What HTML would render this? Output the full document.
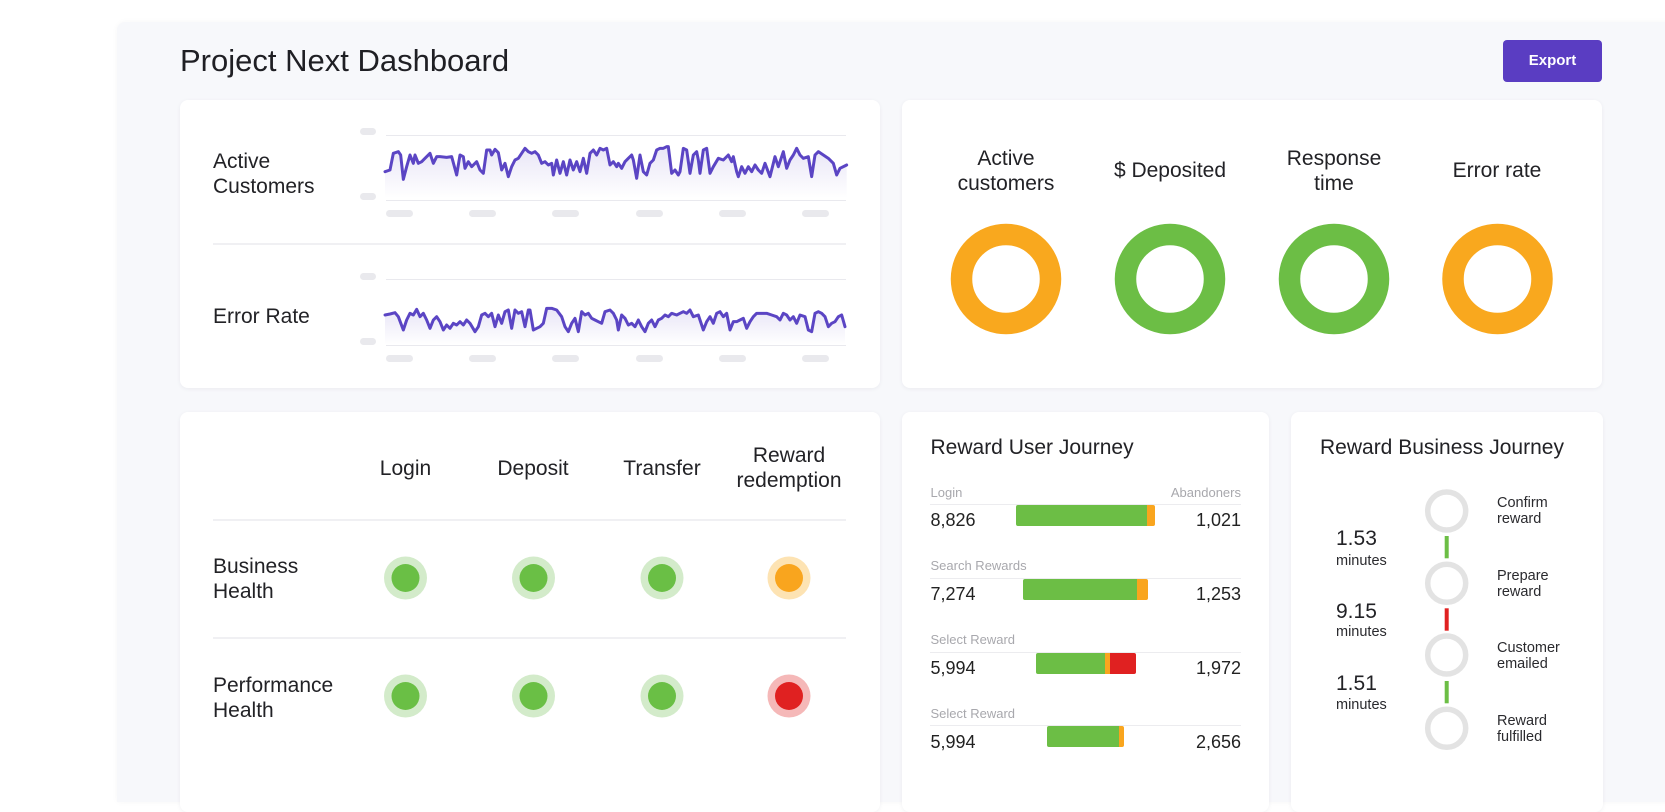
<!DOCTYPE html>
<html><head><meta charset="utf-8">
<style>
*{margin:0;padding:0;box-sizing:border-box}
html,body{width:1665px;height:780px;overflow:hidden;background:#fff;font-family:"Liberation Sans",Arial,sans-serif;color:#222226}
.abs{position:absolute}
#panel{position:absolute;left:117px;top:22px;width:1560px;height:780px;background:#f7f8fb;border-radius:8px 0 0 0;box-shadow:0 0 6px rgba(0,0,0,0.04)}
.card{position:absolute;background:#fff;border-radius:8px;box-shadow:0 1px 4px rgba(30,30,60,0.06)}
.t21{font-size:21px;line-height:25px;white-space:nowrap}
.ctr{text-align:center}
.pill{position:absolute;background:#e9e9ed;border-radius:4px}
.grid{position:absolute;height:1px;background:#e9e9ee}
.div{position:absolute;height:2px;background:#f0f0f3}
.lbl{position:absolute;font-size:13px;line-height:16px;color:#a8a8ad;white-space:nowrap}
.num{position:absolute;font-size:18px;line-height:22px;color:#222;white-space:nowrap}
.bar{position:absolute;height:21px;border-radius:2px;overflow:hidden;display:flex}
.g{background:#6cbe45}.o{background:#f9a51e}.r{background:#e02121}
.sm{position:absolute;font-size:14.5px;line-height:16px;color:#2a2a2e;white-space:nowrap}
</style></head><body>
<div id="panel"></div>

<div class="abs" style="left:180px;top:41px;font-size:31px;line-height:40px;white-space:nowrap;color:#1f1f24">Project Next Dashboard</div>
<div class="abs" style="left:1503px;top:40px;width:99px;height:42px;background:#5a3dc2;border-radius:4px;color:#fff;font-size:15px;font-weight:bold;line-height:42px;text-align:center">Export</div>

<!-- Card 1 -->
<div class="card" style="left:180px;top:100px;width:700px;height:288px"></div>
<div class="abs t21" style="left:213px;top:149px">Active<br>Customers</div>
<div class="abs t21" style="left:213px;top:304px">Error Rate</div>
<div class="div" style="left:213px;top:243px;width:633px"></div>

<div class="pill" style="left:360px;top:128px;width:16px;height:7px"></div>
<div class="pill" style="left:360px;top:193px;width:16px;height:7px"></div>
<div class="grid" style="left:386px;top:135px;width:460px"></div>
<div class="grid" style="left:386px;top:200px;width:460px"></div>
<div class="pill" style="left:386px;top:210px;width:27px;height:7px"></div>
<div class="pill" style="left:469px;top:210px;width:27px;height:7px"></div>
<div class="pill" style="left:552px;top:210px;width:27px;height:7px"></div>
<div class="pill" style="left:636px;top:210px;width:27px;height:7px"></div>
<div class="pill" style="left:719px;top:210px;width:27px;height:7px"></div>
<div class="pill" style="left:802px;top:210px;width:27px;height:7px"></div>

<div class="pill" style="left:360px;top:273px;width:16px;height:7px"></div>
<div class="pill" style="left:360px;top:338px;width:16px;height:7px"></div>
<div class="grid" style="left:386px;top:279px;width:460px"></div>
<div class="grid" style="left:386px;top:345px;width:460px"></div>
<div class="pill" style="left:386px;top:355px;width:27px;height:7px"></div>
<div class="pill" style="left:469px;top:355px;width:27px;height:7px"></div>
<div class="pill" style="left:552px;top:355px;width:27px;height:7px"></div>
<div class="pill" style="left:636px;top:355px;width:27px;height:7px"></div>
<div class="pill" style="left:719px;top:355px;width:27px;height:7px"></div>
<div class="pill" style="left:802px;top:355px;width:27px;height:7px"></div>

<svg class="abs" style="left:380px;top:130px" width="470" height="70" viewBox="0 0 1410 210">
<defs><linearGradient id="gf" x1="0" y1="0" x2="0" y2="1"><stop offset="0" stop-color="#5b45c4" stop-opacity="0.14"/><stop offset="1" stop-color="#5b45c4" stop-opacity="0"/></linearGradient></defs>
<polygon fill="url(#gf)" points="15,125 30,120 40,70 55,65 62,75 70,148 80,110 90,75 100,100 105,75 115,100 125,95 135,85 150,70 160,100 170,80 180,80 200,82 215,80 230,135 240,75 250,80 255,115 265,95 275,110 290,95 300,120 310,130 320,60 330,60 335,75 345,58 355,68 365,120 375,100 385,140 395,110 405,90 415,85 425,70 435,55 445,65 455,70 465,65 475,75 485,100 495,95 505,105 515,100 520,135 530,90 540,130 550,95 560,135 570,90 580,120 590,95 600,125 610,85 620,130 630,70 640,60 650,75 660,55 670,60 680,55 690,105 700,95 710,110 715,100 725,115 735,95 745,85 755,75 760,90 770,145 780,75 790,125 800,135 810,100 820,90 830,60 840,55 850,55 860,50 865,50 875,130 885,120 895,135 900,125 910,55 920,60 930,130 940,75 950,65 955,90 960,130 970,60 980,55 990,130 1000,110 1015,85 1030,90 1045,75 1055,95 1060,80 1070,125 1075,140 1085,110 1095,130 1105,110 1115,125 1125,105 1135,120 1145,130 1155,100 1170,140 1185,80 1195,110 1210,65 1220,115 1230,90 1240,75 1250,55 1260,75 1270,85 1285,80 1295,140 1305,75 1315,65 1330,75 1345,85 1360,100 1370,135 1380,115 1400,105 1400,205 15,205"/>
<polyline fill="none" stroke="#5b45c4" stroke-width="9" stroke-linejoin="round" stroke-linecap="round" points="15,125 30,120 40,70 55,65 62,75 70,148 80,110 90,75 100,100 105,75 115,100 125,95 135,85 150,70 160,100 170,80 180,80 200,82 215,80 230,135 240,75 250,80 255,115 265,95 275,110 290,95 300,120 310,130 320,60 330,60 335,75 345,58 355,68 365,120 375,100 385,140 395,110 405,90 415,85 425,70 435,55 445,65 455,70 465,65 475,75 485,100 495,95 505,105 515,100 520,135 530,90 540,130 550,95 560,135 570,90 580,120 590,95 600,125 610,85 620,130 630,70 640,60 650,75 660,55 670,60 680,55 690,105 700,95 710,110 715,100 725,115 735,95 745,85 755,75 760,90 770,145 780,75 790,125 800,135 810,100 820,90 830,60 840,55 850,55 860,50 865,50 875,130 885,120 895,135 900,125 910,55 920,60 930,130 940,75 950,65 955,90 960,130 970,60 980,55 990,130 1000,110 1015,85 1030,90 1045,75 1055,95 1060,80 1070,125 1075,140 1085,110 1095,130 1105,110 1115,125 1125,105 1135,120 1145,130 1155,100 1170,140 1185,80 1195,110 1210,65 1220,115 1230,90 1240,75 1250,55 1260,75 1270,85 1285,80 1295,140 1305,75 1315,65 1330,75 1345,85 1360,100 1370,135 1380,115 1400,105"/>
</svg>

<svg class="abs" style="left:380px;top:290px" width="470" height="70" viewBox="0 0 1410 210">
<defs><linearGradient id="gf2" x1="0" y1="0" x2="0" y2="1"><stop offset="0" stop-color="#5b45c4" stop-opacity="0.14"/><stop offset="1" stop-color="#5b45c4" stop-opacity="0"/></linearGradient></defs>
<polygon fill="url(#gf2)" points="15,75 30,72 45,68 55,80 70,120 80,90 90,70 100,75 110,58 120,80 130,70 140,90 150,115 160,90 170,80 180,95 190,120 200,105 210,115 220,100 230,105 240,95 250,105 260,90 270,100 285,125 295,110 305,75 315,70 325,80 335,70 345,110 355,75 365,100 375,65 385,60 395,115 405,60 415,70 425,65 435,110 445,60 450,60 460,120 470,115 480,110 490,100 500,55 515,55 530,60 545,80 555,110 565,125 575,100 585,85 595,125 605,65 615,75 625,70 635,85 645,90 655,95 665,100 675,65 690,60 700,70 710,90 715,120 725,75 735,85 745,105 755,100 765,110 775,90 785,110 795,125 805,100 815,90 825,110 835,90 845,85 855,75 865,80 875,70 890,75 900,70 910,65 920,70 930,60 940,80 955,75 970,120 980,95 990,80 1000,100 1010,70 1020,65 1030,80 1040,70 1050,120 1060,95 1070,95 1080,90 1090,85 1100,115 1110,95 1120,80 1130,70 1145,70 1160,70 1175,75 1190,80 1200,90 1210,70 1220,75 1230,90 1240,80 1250,100 1260,75 1275,80 1285,120 1295,125 1305,70 1315,65 1325,70 1335,80 1345,110 1355,100 1365,95 1375,80 1385,75 1395,110 1395,165 15,165"/>
<polyline fill="none" stroke="#5b45c4" stroke-width="9" stroke-linejoin="round" stroke-linecap="round" points="15,75 30,72 45,68 55,80 70,120 80,90 90,70 100,75 110,58 120,80 130,70 140,90 150,115 160,90 170,80 180,95 190,120 200,105 210,115 220,100 230,105 240,95 250,105 260,90 270,100 285,125 295,110 305,75 315,70 325,80 335,70 345,110 355,75 365,100 375,65 385,60 395,115 405,60 415,70 425,65 435,110 445,60 450,60 460,120 470,115 480,110 490,100 500,55 515,55 530,60 545,80 555,110 565,125 575,100 585,85 595,125 605,65 615,75 625,70 635,85 645,90 655,95 665,100 675,65 690,60 700,70 710,90 715,120 725,75 735,85 745,105 755,100 765,110 775,90 785,110 795,125 805,100 815,90 825,110 835,90 845,85 855,75 865,80 875,70 890,75 900,70 910,65 920,70 930,60 940,80 955,75 970,120 980,95 990,80 1000,100 1010,70 1020,65 1030,80 1040,70 1050,120 1060,95 1070,95 1080,90 1090,85 1100,115 1110,95 1120,80 1130,70 1145,70 1160,70 1175,75 1190,80 1200,90 1210,70 1220,75 1230,90 1240,80 1250,100 1260,75 1275,80 1285,120 1295,125 1305,70 1315,65 1325,70 1335,80 1345,110 1355,100 1365,95 1375,80 1385,75 1395,110"/>
</svg>

<!-- Card 2 -->
<div class="card" style="left:902px;top:100px;width:700px;height:288px"></div>
<div class="abs t21 ctr" style="left:926px;top:145.5px;width:160px">Active<br>customers</div>
<div class="abs t21 ctr" style="left:1090px;top:158px;width:160px">$ Deposited</div>
<div class="abs t21 ctr" style="left:1254px;top:145.5px;width:160px">Response<br>time</div>
<div class="abs t21 ctr" style="left:1417px;top:158px;width:160px">Error rate</div>
<svg class="abs" style="left:902px;top:100px" width="700" height="288">
<circle cx="104" cy="179" r="44.5" fill="none" stroke="#f9a81e" stroke-width="21.5"/>
<circle cx="268" cy="179" r="44.5" fill="none" stroke="#6cbe45" stroke-width="21.5"/>
<circle cx="432" cy="179" r="44.5" fill="none" stroke="#6cbe45" stroke-width="21.5"/>
<circle cx="595.5" cy="179" r="44.5" fill="none" stroke="#f9a81e" stroke-width="21.5"/>
</svg>

<!-- Card 3 -->
<div class="card" style="left:180px;top:412px;width:700px;height:400px"></div>
<div class="abs t21 ctr" style="left:345.5px;top:456px;width:120px">Login</div>
<div class="abs t21 ctr" style="left:473px;top:456px;width:120px">Deposit</div>
<div class="abs t21 ctr" style="left:602px;top:456px;width:120px">Transfer</div>
<div class="abs t21 ctr" style="left:719px;top:442.5px;width:140px">Reward<br>redemption</div>
<div class="div" style="left:213px;top:518.5px;width:633px"></div>
<div class="div" style="left:213px;top:637px;width:633px"></div>
<div class="abs t21" style="left:213px;top:554px">Business<br>Health</div>
<div class="abs t21" style="left:213px;top:672.5px">Performance<br>Health</div>
<svg class="abs" style="left:180px;top:412px" width="700" height="368">
<g transform="translate(0,166)">
<circle cx="225.5" cy="0" r="21.5" fill="#d3ebca"/><circle cx="225.5" cy="0" r="14" fill="#6abf45"/>
<circle cx="353.5" cy="0" r="21.5" fill="#d3ebca"/><circle cx="353.5" cy="0" r="14" fill="#6abf45"/>
<circle cx="482" cy="0" r="21.5" fill="#d3ebca"/><circle cx="482" cy="0" r="14" fill="#6abf45"/>
<circle cx="609" cy="0" r="21.5" fill="#fde3b3"/><circle cx="609" cy="0" r="14" fill="#f9a51e"/>
</g>
<g transform="translate(0,284)">
<circle cx="225.5" cy="0" r="21.5" fill="#d3ebca"/><circle cx="225.5" cy="0" r="14" fill="#6abf45"/>
<circle cx="353.5" cy="0" r="21.5" fill="#d3ebca"/><circle cx="353.5" cy="0" r="14" fill="#6abf45"/>
<circle cx="482" cy="0" r="21.5" fill="#d3ebca"/><circle cx="482" cy="0" r="14" fill="#6abf45"/>
<circle cx="609" cy="0" r="21.5" fill="#f5b8b8"/><circle cx="609" cy="0" r="14" fill="#e02121"/>
</g>
</svg>

<!-- Card 4 -->
<div class="card" style="left:902px;top:412px;width:367px;height:400px"></div>
<div class="abs" style="left:930.5px;top:435px;font-size:21px;line-height:26px;white-space:nowrap">Reward User Journey</div>

<div class="lbl" style="left:930.5px;top:485px">Login</div>
<div class="lbl" style="left:1141px;top:485px;width:100px;text-align:right">Abandoners</div>
<div class="div" style="left:930px;top:504px;width:311px;height:1px;background:#ececef"></div>
<div class="num" style="left:930.5px;top:509px">8,826</div>
<div class="num" style="left:1141px;top:509px;width:100px;text-align:right">1,021</div>
<div class="bar" style="left:1016px;top:505px;width:139px"><div class="g" style="width:131px"></div><div class="o" style="flex:1"></div></div>

<div class="lbl" style="left:930.5px;top:558px">Search Rewards</div>
<div class="div" style="left:930px;top:578px;width:311px;height:1px;background:#ececef"></div>
<div class="num" style="left:930.5px;top:583px">7,274</div>
<div class="num" style="left:1141px;top:583px;width:100px;text-align:right">1,253</div>
<div class="bar" style="left:1023px;top:578.5px;width:125px"><div class="g" style="width:114px"></div><div class="o" style="flex:1"></div></div>

<div class="lbl" style="left:930.5px;top:632px">Select Reward</div>
<div class="div" style="left:930px;top:652px;width:311px;height:1px;background:#ececef"></div>
<div class="num" style="left:930.5px;top:656.5px">5,994</div>
<div class="num" style="left:1141px;top:656.5px;width:100px;text-align:right">1,972</div>
<div class="bar" style="left:1036px;top:652.5px;width:100px"><div class="g" style="width:69px"></div><div class="o" style="width:5px"></div><div class="r" style="flex:1"></div></div>

<div class="lbl" style="left:930.5px;top:706px">Select Reward</div>
<div class="div" style="left:930px;top:725px;width:311px;height:1px;background:#ececef"></div>
<div class="num" style="left:930.5px;top:730.5px">5,994</div>
<div class="num" style="left:1141px;top:730.5px;width:100px;text-align:right">2,656</div>
<div class="bar" style="left:1047px;top:726px;width:77px"><div class="g" style="width:72px"></div><div class="o" style="flex:1"></div></div>

<!-- Card 5 -->
<div class="card" style="left:1291px;top:412px;width:312px;height:400px"></div>
<div class="abs" style="left:1320px;top:435px;font-size:21px;line-height:26px;white-space:nowrap">Reward Business Journey</div>
<svg class="abs" style="left:1291px;top:412px" width="312" height="368">
<rect x="153.7" y="124" width="4" height="22.3" fill="#6cbe45"/>
<rect x="153.7" y="196.3" width="4" height="22.4" fill="#e02121"/>
<rect x="153.7" y="269" width="4" height="22.3" fill="#6cbe45"/>
<circle cx="155.7" cy="99" r="19" fill="#fff" stroke="#e3e3e3" stroke-width="5.5"/>
<circle cx="155.7" cy="171.3" r="19" fill="#fff" stroke="#e3e3e3" stroke-width="5.5"/>
<circle cx="155.7" cy="243" r="19" fill="#fff" stroke="#e3e3e3" stroke-width="5.5"/>
<circle cx="155.7" cy="316.3" r="19" fill="#fff" stroke="#e3e3e3" stroke-width="5.5"/>
</svg>
<div class="abs" style="left:1336px;top:525.5px;font-size:21px;line-height:25px;white-space:nowrap">1.53</div>
<div class="sm" style="left:1336px;top:552.5px">minutes</div>
<div class="abs" style="left:1336px;top:598.5px;font-size:21px;line-height:25px;white-space:nowrap">9.15</div>
<div class="sm" style="left:1336px;top:624px">minutes</div>
<div class="abs" style="left:1336px;top:671px;font-size:21px;line-height:25px;white-space:nowrap">1.51</div>
<div class="sm" style="left:1336px;top:697px">minutes</div>
<div class="sm" style="left:1497px;top:495px">Confirm<br>reward</div>
<div class="sm" style="left:1497px;top:567.5px">Prepare<br>reward</div>
<div class="sm" style="left:1497px;top:640px">Customer<br>emailed</div>
<div class="sm" style="left:1497px;top:712.5px">Reward<br>fulfilled</div>
</body></html>
